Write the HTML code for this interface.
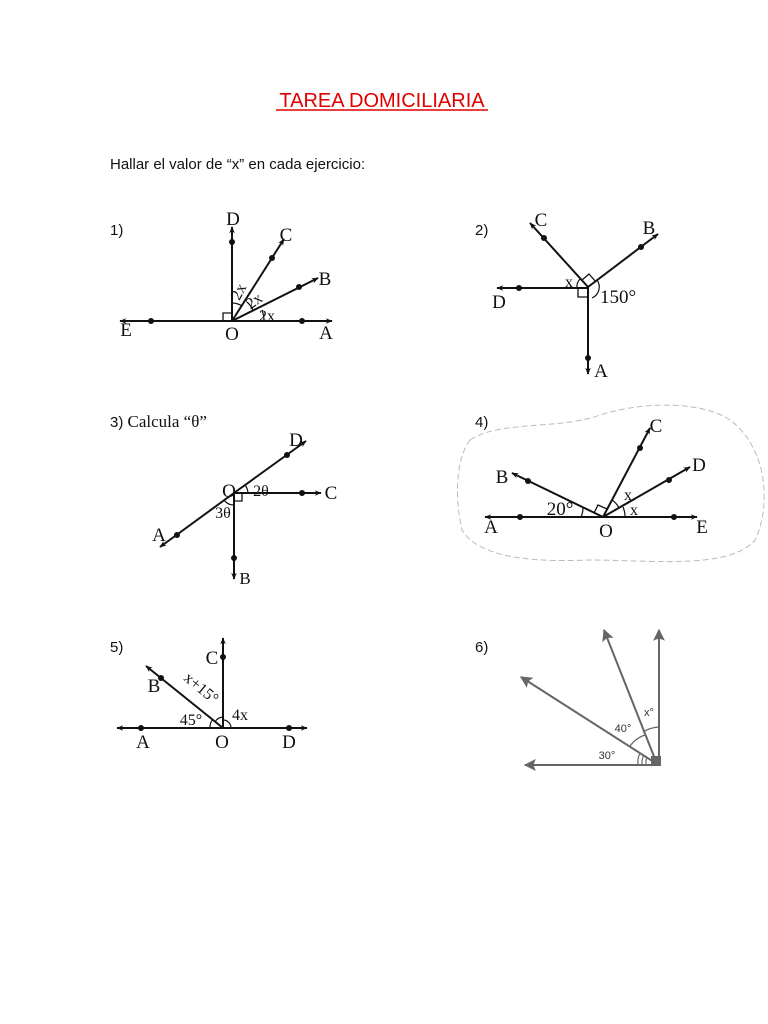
<!DOCTYPE html>
<html><head><meta charset="utf-8"><style>
html,body{margin:0;padding:0;background:#fff;}
svg{display:block;}
.s{font-family:"Liberation Sans",sans-serif;}
.r{font-family:"Liberation Serif",serif;}
</style></head><body>
<svg width="768" height="1024" viewBox="0 0 768 1024" xmlns="http://www.w3.org/2000/svg">
<defs>
<marker id="a" viewBox="0 0 10 10" refX="9" refY="5" markerWidth="8" markerHeight="7" orient="auto-start-reverse" markerUnits="userSpaceOnUse"><path d="M0,1 L10,5 L0,9 L3,5z" fill="#111"/></marker>
<marker id="g" viewBox="0 0 10 10" refX="9" refY="5" markerWidth="14" markerHeight="12" orient="auto-start-reverse" markerUnits="userSpaceOnUse"><path d="M0,0 L10,5 L0,10 L2,5z" fill="#666"/></marker>
</defs>
<text x="382" y="107" text-anchor="middle" class="s" font-size="20" fill="#e00000">TAREA DOMICILIARIA</text>
<line x1="276" y1="110" x2="488" y2="110" stroke="#e00000" stroke-width="1.5"/>
<text x="110" y="169" class="s" font-size="15" fill="#111">Hallar el valor de “x” en cada ejercicio:</text>

<g class="s" font-size="15" fill="#111">
<text x="110" y="235">1)</text><text x="475" y="235">2)</text>
<text x="475" y="427">4)</text><text x="110" y="652">5)</text><text x="475" y="652">6)</text>
<text x="110" y="427">3) <tspan class="r" font-size="17">Calcula “θ”</tspan></text>
</g>

<g stroke="#111" stroke-width="2" fill="none">
<!-- fig1 -->
<line x1="232" y1="321" x2="120" y2="321" marker-end="url(#a)"/>
<line x1="232" y1="321" x2="332" y2="321" marker-end="url(#a)"/>
<line x1="232" y1="321" x2="232" y2="227" marker-end="url(#a)"/>
<line x1="232" y1="321" x2="284" y2="239" marker-end="url(#a)"/>
<line x1="232" y1="321" x2="318" y2="278" marker-end="url(#a)"/>
<path d="M223,321 V313 H232" stroke-width="1.3"/>
<path d="M232,303 A18,18 0 0 1 242,306 M247,302 A25,25 0 0 1 253,310 M262,310 A32,32 0 0 1 264,321" stroke-width="1.2"/>
<!-- fig2 -->
<line x1="588" y1="287" x2="530" y2="223" marker-end="url(#a)"/>
<line x1="588" y1="287" x2="658" y2="234" marker-end="url(#a)"/>
<line x1="588" y1="288" x2="497" y2="288" marker-end="url(#a)"/>
<line x1="588" y1="287" x2="588" y2="374" marker-end="url(#a)"/>
<path d="M578,288 V297 H588" stroke-width="1.3"/>
<path d="M582,280 L589,274 L596,282" stroke-width="1.3"/>
<path d="M597,280 A12,12 0 0 1 592,298" stroke-width="1.2"/>
<path d="M577,288 A11,11 0 0 1 580,279" stroke-width="1.2"/>
<!-- fig3 -->
<line x1="234" y1="493" x2="160" y2="547" marker-end="url(#a)"/>
<line x1="234" y1="493" x2="306" y2="441" marker-end="url(#a)"/>
<line x1="234" y1="493" x2="321" y2="493" marker-end="url(#a)"/>
<line x1="234" y1="492" x2="234" y2="579" marker-end="url(#a)"/>
<path d="M234,501 H242 V493" stroke-width="1.3"/>
<path d="M248,493 A14,14 0 0 0 245,485" stroke-width="1.2"/>
<path d="M224,500 A12,12 0 0 0 234,505" stroke-width="1.2"/>
<!-- fig4 -->
<line x1="603" y1="517" x2="485" y2="517" marker-end="url(#a)"/>
<line x1="603" y1="517" x2="697" y2="517" marker-end="url(#a)"/>
<line x1="603" y1="517" x2="512" y2="473" marker-end="url(#a)"/>
<line x1="603" y1="517" x2="650" y2="428" marker-end="url(#a)"/>
<line x1="603" y1="517" x2="690" y2="467" marker-end="url(#a)"/>
<path d="M594,513 L598,505 L607,509" stroke-width="1.3"/>
<path d="M583,507 A22,22 0 0 1 581,517" stroke-width="1.2"/>
<path d="M612,500 A20,20 0 0 1 619,508 M623,507 A22,22 0 0 1 625,517" stroke-width="1.2"/>
<!-- fig5 -->
<line x1="223" y1="728" x2="117" y2="728" marker-end="url(#a)"/>
<line x1="223" y1="728" x2="307" y2="728" marker-end="url(#a)"/>
<line x1="223" y1="728" x2="223" y2="638" marker-end="url(#a)"/>
<line x1="223" y1="728" x2="146" y2="666" marker-end="url(#a)"/>
<path d="M210,728 A13,13 0 0 1 213,719" stroke-width="1.2"/>
<path d="M223,720 A8,8 0 0 1 231,728" stroke-width="1.2"/>
<path d="M215,722 A10,10 0 0 1 223,717" stroke-width="1.2"/>
</g>
<g fill="#111">
<circle cx="151" cy="321" r="3"/><circle cx="302" cy="321" r="3"/><circle cx="232" cy="242" r="3"/><circle cx="272" cy="258" r="3"/><circle cx="299" cy="287" r="3"/>
<circle cx="544" cy="238" r="3"/><circle cx="641" cy="247" r="3"/><circle cx="519" cy="288" r="3"/><circle cx="588" cy="358" r="3"/>
<circle cx="177" cy="535" r="3"/><circle cx="287" cy="455" r="3"/><circle cx="302" cy="493" r="3"/><circle cx="234" cy="558" r="3"/>
<circle cx="520" cy="517" r="3"/><circle cx="674" cy="517" r="3"/><circle cx="528" cy="481" r="3"/><circle cx="640" cy="448" r="3"/><circle cx="669" cy="480" r="3"/>
<circle cx="141" cy="728" r="3"/><circle cx="289" cy="728" r="3"/><circle cx="223" cy="657" r="3"/><circle cx="161" cy="678" r="3"/>
</g>
<g class="r" font-size="19" fill="#111" text-anchor="middle">
<text x="233" y="225">D</text><text x="286" y="241">C</text><text x="325" y="285">B</text><text x="126" y="336">E</text><text x="232" y="340">O</text><text x="326" y="339">A</text>
<text x="267" y="321" font-size="16">2x</text>
<text x="257" y="305" font-size="16" transform="rotate(-35 257 305)">2x</text>
<text x="243" y="294" font-size="16" transform="rotate(-62 243 294)">2x</text>
<text x="541" y="226">C</text><text x="649" y="234">B</text><text x="499" y="308">D</text><text x="601" y="377">A</text><text x="569" y="287" font-size="16">x</text><text x="618" y="303">150°</text>
<text x="229" y="497">O</text><text x="261" y="496" font-size="16">2θ</text><text x="331" y="499">C</text><text x="223" y="518" font-size="16">3θ</text><text x="159" y="541">A</text><text x="296" y="446">D</text><text x="245" y="584" font-size="17">B</text>
<text x="502" y="483">B</text><text x="656" y="432">C</text><text x="699" y="471">D</text><text x="491" y="533">A</text><text x="606" y="537">O</text><text x="702" y="533">E</text><text x="560" y="515">20°</text><text x="628" y="500" font-size="16">x</text><text x="634" y="515" font-size="16">x</text>
<text x="212" y="664">C</text><text x="154" y="692">B</text><text x="143" y="748">A</text><text x="222" y="748">O</text><text x="289" y="748">D</text><text x="191" y="725" font-size="16">45°</text><text x="240" y="720" font-size="16">4x</text>
<text x="198" y="692" font-size="16" transform="rotate(40 198 692)">x+15°</text>
</g>
<!-- fig4 blob -->
<path d="M470,440 C500,420 560,430 600,415 C640,402 700,400 730,420 C770,450 770,510 755,540 C730,570 650,560 590,560 C540,562 480,560 462,530 C455,500 455,460 470,440Z" fill="none" stroke="#bbb" stroke-width="1" stroke-dasharray="6,3"/>
<!-- fig6 -->
<g stroke="#666" stroke-width="2" fill="none">
<line x1="657" y1="765" x2="525" y2="765" marker-end="url(#g)"/>
<line x1="659" y1="765" x2="659" y2="630" marker-end="url(#g)"/>
<line x1="657" y1="764" x2="521" y2="677" marker-end="url(#g)"/>
<line x1="657" y1="764" x2="604" y2="630" marker-end="url(#g)"/>
<path d="M643,732 A33,33 0 0 1 659,727" stroke-width="1.3"/>
<path d="M630,746 A30,30 0 0 1 645,735" stroke-width="1.3"/>
<path d="M638,764 A20,20 0 0 1 640,753 M642,764 A16,16 0 0 1 644,755 M646,764 A12,12 0 0 1 647,757" stroke-width="1.2"/>
</g>
<rect x="651" y="756" width="10" height="10" fill="#666"/>
<g class="s" font-size="11" fill="#333" text-anchor="middle">
<text x="649" y="716">x°</text><text x="623" y="732">40°</text><text x="607" y="759">30°</text>
</g>
</svg>
</body></html>
